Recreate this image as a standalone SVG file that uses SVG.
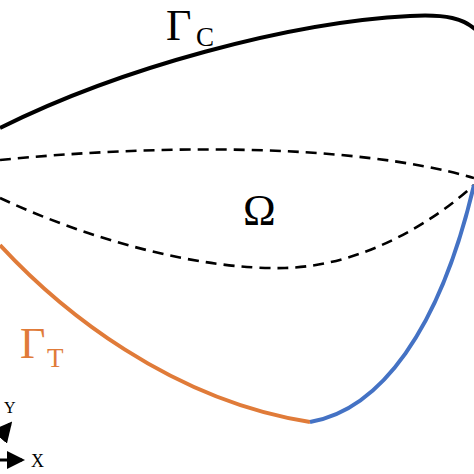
<svg xmlns="http://www.w3.org/2000/svg" width="474" height="474" viewBox="0 0 474 474">
<style>
.bnd{fill:none;stroke-linecap:butt}
.dash{fill:none;stroke:#000;stroke-width:2.6;stroke-dasharray:11 7}
.lbl{font-family:"Liberation Serif","DejaVu Serif",serif}
</style>
<defs>
<marker id="ah" markerWidth="6" markerHeight="6" refX="5" refY="3" orient="auto" markerUnits="strokeWidth">
<path d="M0,0 L6,3 L0,6 Z" fill="#000"/>
</marker>
</defs>
<rect width="474" height="474" fill="#fff"/>
<g id="connectors">
<path id="gammaC" class="bnd" d="M0,128 C120,68 290,22 410,16 C445,14 465,18 478,32" stroke="#000" stroke-width="4"/>
<path id="dashUpper" class="dash" d="M0,160 C150,145 350,142 474,178"/>
<path id="dashLower" class="dash" d="M0,198 C90,240 200,270 285,268 C360,266 430,225 474,185"/>
<path id="gammaT" class="bnd" d="M0,245 C60,310 170,400 310,422" stroke="#E07B39" stroke-width="4"/>
<path id="gammaB" class="bnd" d="M310,422 C380,410 440,330 474,185" stroke="#4472C4" stroke-width="4"/>
<line x1="0" y1="460" x2="22" y2="460" stroke="#000" stroke-width="3" marker-end="url(#ah)"/>
<line x1="0" y1="436" x2="10" y2="424" stroke="#000" stroke-width="3.4" marker-end="url(#ah)"/>
</g>
<g id="labelC" class="lbl">
<text x="166" y="40" font-size="44">Γ</text>
<text x="196" y="46" font-size="27">C</text>
</g>
<g id="labelT" class="lbl" fill="#E07B39">
<text x="20" y="358" font-size="44">Γ</text>
<text x="47" y="367" font-size="27">T</text>
</g>
<g id="labelOmega" class="lbl">
<text x="243" y="225" font-size="44">Ω</text>
</g>
<g id="axes" class="lbl">
<text x="31" y="467" font-size="18">X</text>
<text x="4" y="413" font-size="16">Y</text>
</g>
</svg>
